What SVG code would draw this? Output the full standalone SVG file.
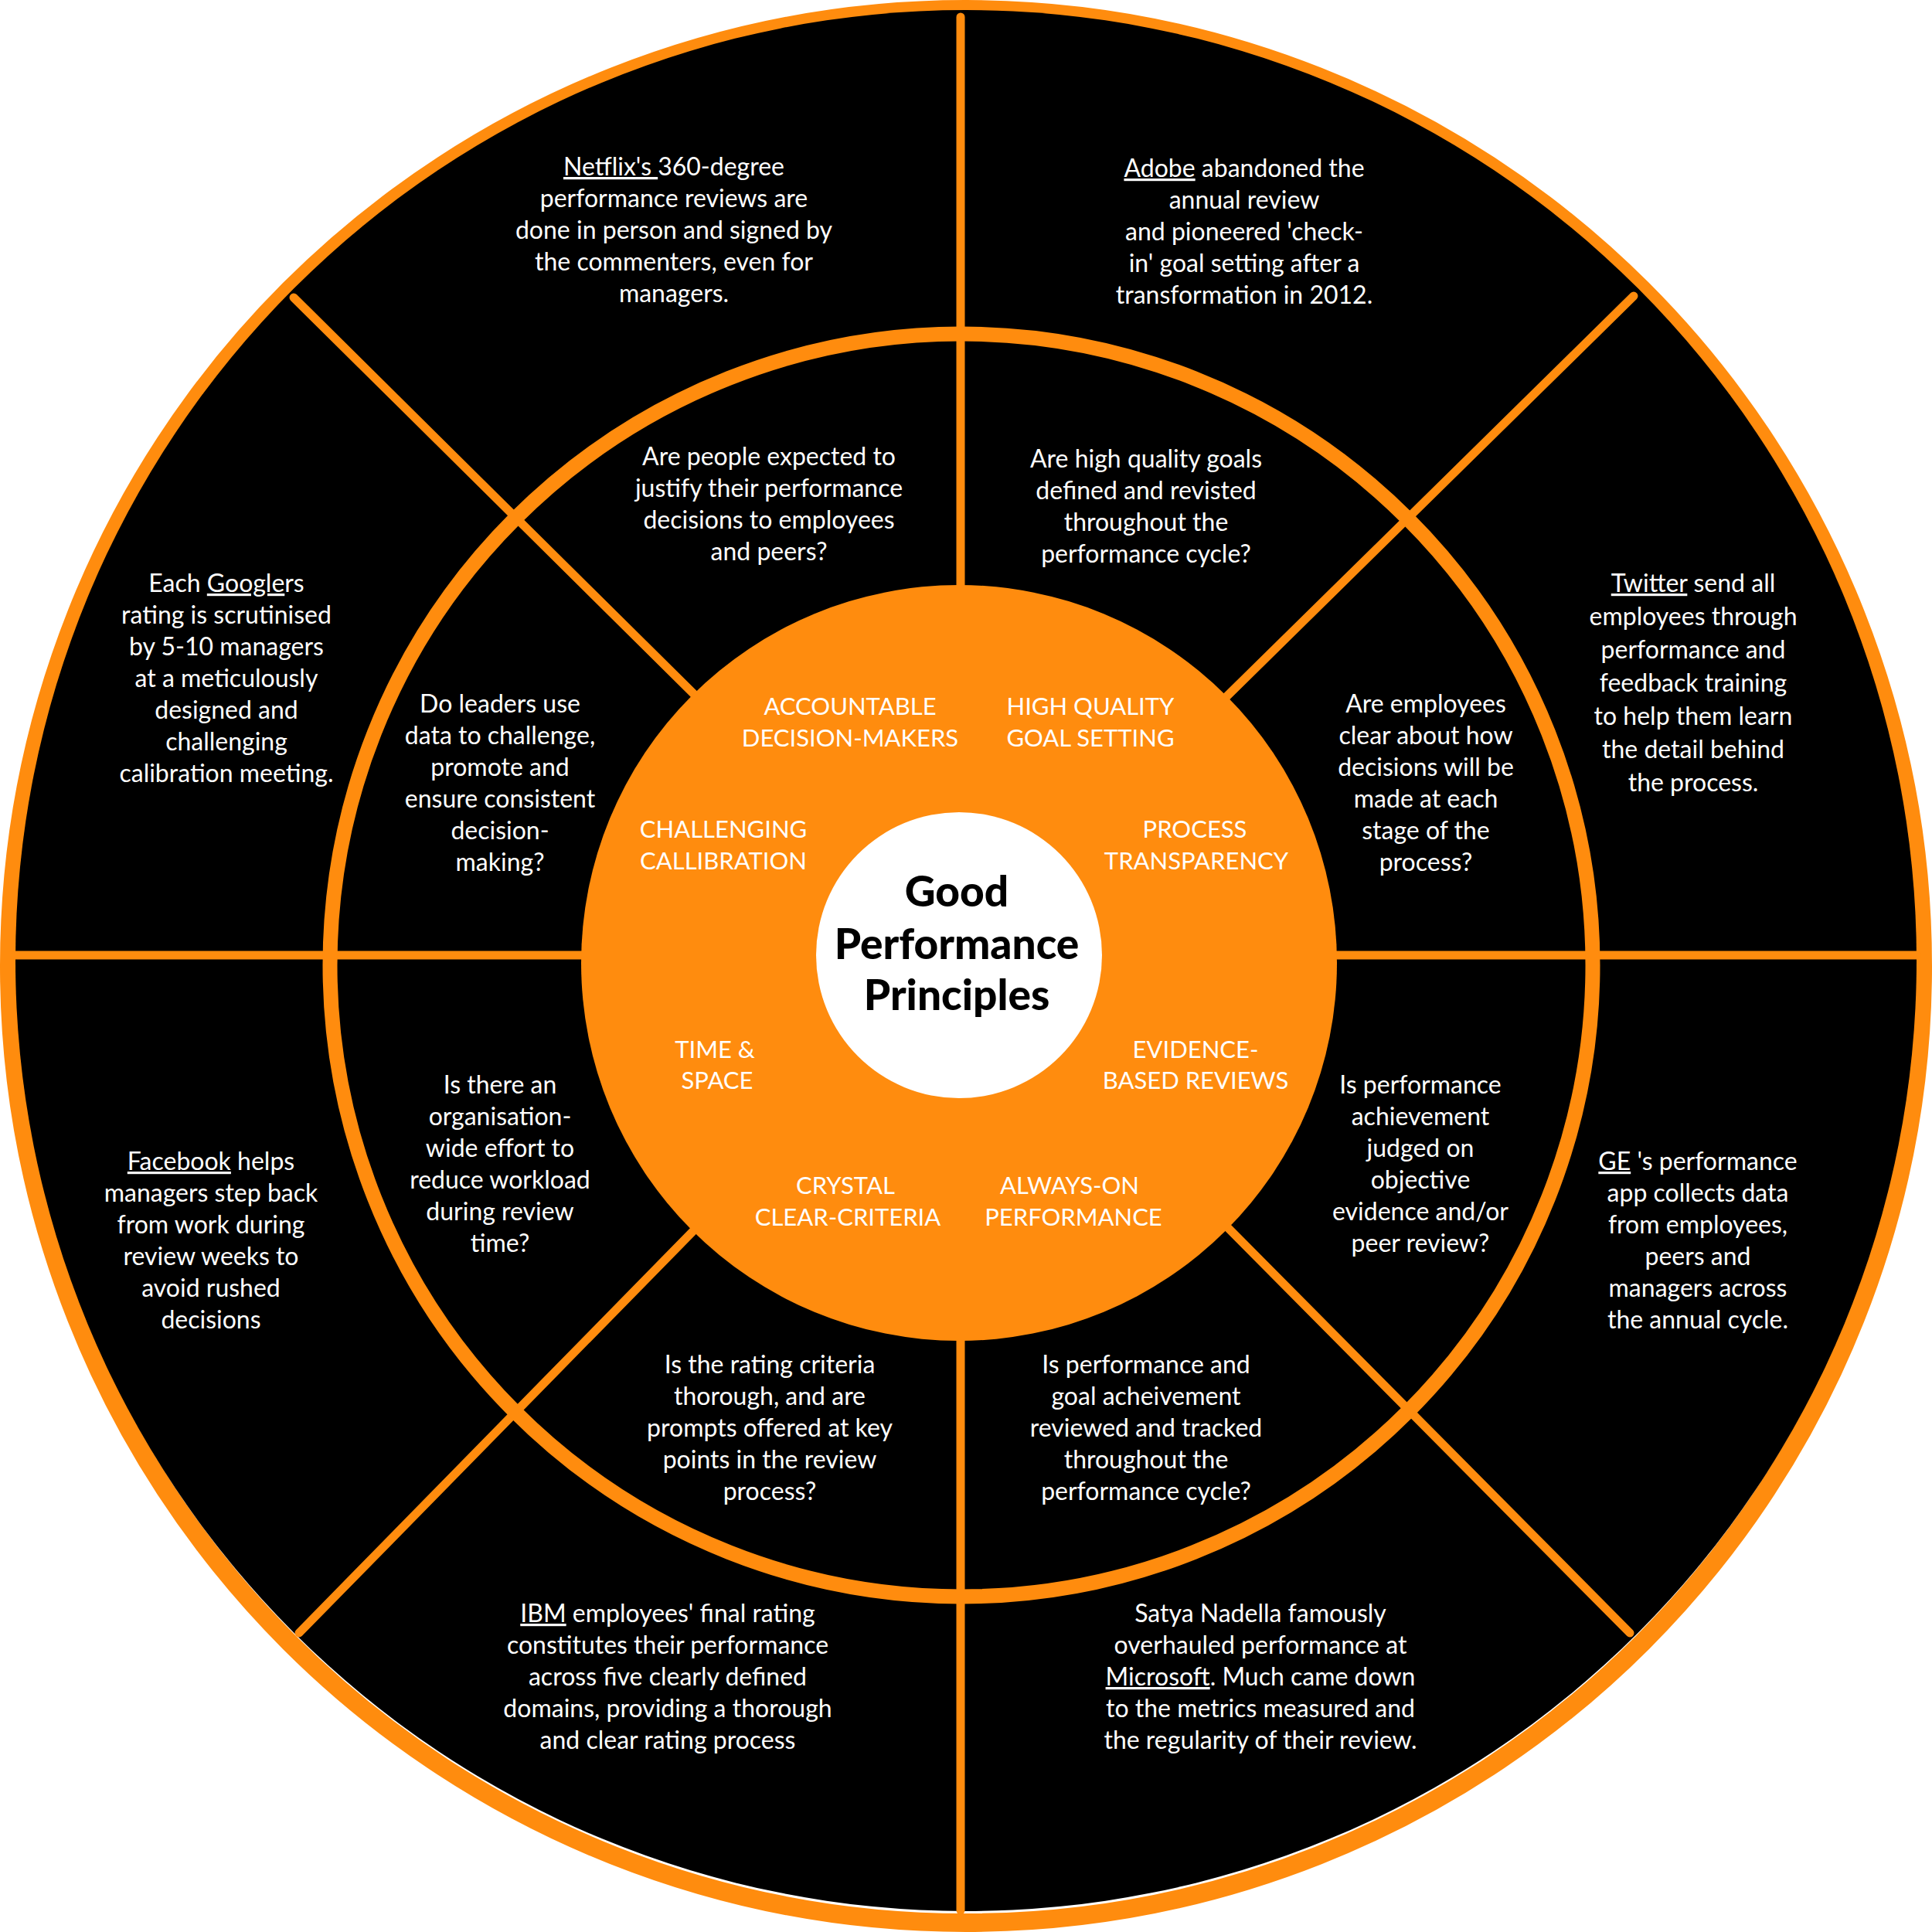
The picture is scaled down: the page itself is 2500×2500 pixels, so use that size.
<svg xmlns="http://www.w3.org/2000/svg" width="2500" height="2500" viewBox="0 0 2500 2500">
<style>
.t{font-family:Lato,"Noto Sans","Liberation Sans",sans-serif;fill:#fff;text-anchor:middle;}
.b{font-size:32px;}
.l{font-size:31px;}
.h{font-size:55px;font-weight:900;fill:#000;}
.u{text-decoration:underline;}
.sp{stroke:#ff8c0e;stroke-width:11;stroke-linecap:round;fill:none;}
</style>
<rect width="2500" height="2500" fill="#fff"/>
<g id="rings">
<circle cx="1250" cy="1250" r="1238" fill="none" stroke="#ff8c0e" stroke-width="24"/>
<circle cx="1250" cy="1243" r="1230" fill="#000"/>
</g>
<g id="connectors">
<line class="sp" x1="1243" y1="22" x2="1243" y2="2472"/>
<line class="sp" x1="20" y1="1236" x2="2480" y2="1236" stroke-linecap="butt"/>
<line class="sp" x1="380" y1="385" x2="1243" y2="1240"/>
<line class="sp" x1="2114" y1="383" x2="1243" y2="1240"/>
<line class="sp" x1="387" y1="2113" x2="1243" y2="1240"/>
<line class="sp" x1="2109" y1="2113" x2="1243" y2="1240"/>
</g>
<g id="middle-ring">
<circle cx="1244" cy="1249" r="817" fill="none" stroke="#ff8c0e" stroke-width="19"/>
</g>
<g id="principles-disk">
<circle cx="1241" cy="1246" r="489" fill="#ff8c0e"/>
</g>
<g id="center">
<circle cx="1241" cy="1236" r="185" fill="#fff"/>
<text class="t h" x="1238" y="1173">Good</text>
<text class="t h" x="1238" y="1241">Performance</text>
<text class="t h" x="1238" y="1307">Principles</text>
</g>
<g id="principle-accountable"><text class="t l" x="1100" y="925">ACCOUNTABLE<tspan x="1100" dy="41">DECISION-MAKERS</tspan></text></g>
<g id="principle-goals"><text class="t l" x="1411" y="925">HIGH QUALITY<tspan x="1411" dy="41">GOAL SETTING</tspan></text></g>
<g id="principle-calibration"><text class="t l" x="936" y="1084">CHALLENGING<tspan x="936" dy="41">CALLIBRATION</tspan></text></g>
<g id="principle-transparency"><text class="t l" x="1546" y="1084">PROCESS<tspan x="1548" dy="41">TRANSPARENCY</tspan></text></g>
<g id="principle-time"><text class="t l" x="925" y="1369">TIME &amp;<tspan x="928" dy="40">SPACE</tspan></text></g>
<g id="principle-evidence"><text class="t l" x="1547" y="1369">EVIDENCE-<tspan x="1547" dy="40">BASED REVIEWS</tspan></text></g>
<g id="principle-criteria"><text class="t l" x="1094" y="1545">CRYSTAL<tspan x="1097" dy="41">CLEAR-CRITERIA</tspan></text></g>
<g id="principle-always-on"><text class="t l" x="1384" y="1545">ALWAYS-ON<tspan x="1389" dy="41">PERFORMANCE</tspan></text></g>
<g id="question-accountable"><text class="t b" x="995" y="602">Are people expected to<tspan x="995" dy="41">justify their performance</tspan><tspan x="995" dy="41">decisions to employees</tspan><tspan x="995" dy="41">and peers?</tspan></text></g>
<g id="question-goals"><text class="t b" x="1483" y="605">Are high quality goals<tspan x="1483" dy="41">defined and revisted</tspan><tspan x="1483" dy="41">throughout the</tspan><tspan x="1483" dy="41">performance cycle?</tspan></text></g>
<g id="question-transparency"><text class="t b" x="1845" y="922">Are employees<tspan x="1845" dy="41">clear about how</tspan><tspan x="1845" dy="41">decisions will be</tspan><tspan x="1845" dy="41">made at each</tspan><tspan x="1845" dy="41">stage of the</tspan><tspan x="1845" dy="41">process?</tspan></text></g>
<g id="question-evidence"><text class="t b" x="1838" y="1415">Is performance<tspan x="1838" dy="41">achievement</tspan><tspan x="1838" dy="41">judged on</tspan><tspan x="1838" dy="41">objective</tspan><tspan x="1838" dy="41">evidence and/or</tspan><tspan x="1838" dy="41">peer review?</tspan></text></g>
<g id="question-always-on"><text class="t b" x="1483" y="1777">Is performance and<tspan x="1483" dy="41">goal acheivement</tspan><tspan x="1483" dy="41">reviewed and tracked</tspan><tspan x="1483" dy="41">throughout the</tspan><tspan x="1483" dy="41">performance cycle?</tspan></text></g>
<g id="question-criteria"><text class="t b" x="996" y="1777">Is the rating criteria<tspan x="996" dy="41">thorough, and are</tspan><tspan x="996" dy="41">prompts offered at key</tspan><tspan x="996" dy="41">points in the review</tspan><tspan x="996" dy="41">process?</tspan></text></g>
<g id="question-time"><text class="t b" x="647" y="1415">Is there an<tspan x="647" dy="41">organisation-</tspan><tspan x="647" dy="41">wide effort to</tspan><tspan x="647" dy="41">reduce workload</tspan><tspan x="647" dy="41">during review</tspan><tspan x="647" dy="41">time?</tspan></text></g>
<g id="question-calibration"><text class="t b" x="647" y="922">Do leaders use<tspan x="647" dy="41">data to challenge,</tspan><tspan x="647" dy="41">promote and</tspan><tspan x="647" dy="41">ensure consistent</tspan><tspan x="647" dy="41">decision-</tspan><tspan x="647" dy="41">making?</tspan></text></g>
<g id="example-netflix"><text class="t b" x="872" y="227"><tspan class="u">Netflix's </tspan>360-degree<tspan x="872" dy="41">performance reviews are</tspan><tspan x="872" dy="41">done in person and signed by</tspan><tspan x="872" dy="41">the commenters, even for</tspan><tspan x="872" dy="41">managers.</tspan></text></g>
<g id="example-adobe"><text class="t b" x="1610" y="229"><tspan class="u">Adobe</tspan> abandoned the<tspan x="1610" dy="41">annual review</tspan><tspan x="1610" dy="41">and pioneered 'check-</tspan><tspan x="1610" dy="41">in' goal setting after a</tspan><tspan x="1610" dy="41">transformation in 2012.</tspan></text></g>
<g id="example-twitter"><text class="t b" x="2191" y="766"><tspan class="u">Twitter</tspan> send all<tspan x="2191" dy="43">employees through</tspan><tspan x="2191" dy="43">performance and</tspan><tspan x="2191" dy="43">feedback training</tspan><tspan x="2191" dy="43">to help them learn</tspan><tspan x="2191" dy="43">the detail behind</tspan><tspan x="2191" dy="43">the process.</tspan></text></g>
<g id="example-ge"><text class="t b" x="2197" y="1514"><tspan class="u">GE</tspan> 's performance<tspan x="2197" dy="41">app collects data</tspan><tspan x="2197" dy="41">from employees,</tspan><tspan x="2197" dy="41">peers and</tspan><tspan x="2197" dy="41">managers across</tspan><tspan x="2197" dy="41">the annual cycle.</tspan></text></g>
<g id="example-microsoft"><text class="t b" x="1631" y="2099">Satya Nadella famously<tspan x="1631" dy="41">overhauled performance at</tspan><tspan x="1631" dy="41"><tspan class="u">Microsoft</tspan>. Much came down</tspan><tspan x="1631" dy="41">to the metrics measured and</tspan><tspan x="1631" dy="41">the regularity of their review.</tspan></text></g>
<g id="example-ibm"><text class="t b" x="864" y="2099"><tspan class="u">IBM</tspan> employees' final rating<tspan x="864" dy="41">constitutes their performance</tspan><tspan x="864" dy="41">across five clearly defined</tspan><tspan x="864" dy="41">domains, providing a thorough</tspan><tspan x="864" dy="41">and clear rating process</tspan></text></g>
<g id="example-facebook"><text class="t b" x="273" y="1514"><tspan class="u">Facebook</tspan> helps<tspan x="273" dy="41">managers step back</tspan><tspan x="273" dy="41">from work during</tspan><tspan x="273" dy="41">review weeks to</tspan><tspan x="273" dy="41">avoid rushed</tspan><tspan x="273" dy="41">decisions</tspan></text></g>
<g id="example-google"><text class="t b" x="293" y="766">Each <tspan class="u">Google</tspan>rs<tspan x="293" dy="41">rating is scrutinised</tspan><tspan x="293" dy="41">by 5-10 managers</tspan><tspan x="293" dy="41">at a meticulously</tspan><tspan x="293" dy="41">designed and</tspan><tspan x="293" dy="41">challenging</tspan><tspan x="293" dy="41">calibration meeting.</tspan></text></g>
</svg>
